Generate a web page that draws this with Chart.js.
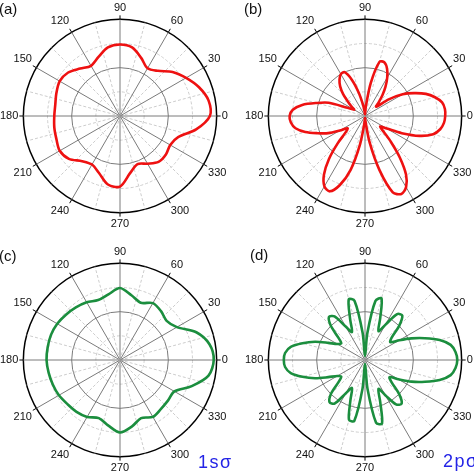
<!DOCTYPE html>
<html>
<head>
<meta charset="utf-8">
<script src="https://cdn.jsdelivr.net/npm/chart.js@4.4.1/dist/chart.umd.min.js"></script>
<style>
  html, body { margin: 0; padding: 0; background: #fff; }
  body { width: 474px; height: 474px; position: relative; overflow: hidden;
         font-family: "Liberation Sans", Arial, sans-serif; }
  canvas { position: absolute; }
  .tag { position: absolute; font-size: 15px; line-height: 1; color: #111; }
  .orb { position: absolute; font-size: 18px; line-height: 1; color: #2424e6; letter-spacing: 1.5px; }
</style>
</head>
<body>
<canvas id="pa" width="240" height="235" style="left:-6px; top:-1px"></canvas>
<canvas id="pb" width="240" height="235" style="left:239px; top:-1px"></canvas>
<canvas id="pc" width="240" height="235" style="left:-6px; top:243px"></canvas>
<canvas id="pd" width="240" height="235" style="left:239px; top:243px"></canvas>

<div class="tag" style="left:-1px; top:1px">(a)</div>
<div class="tag" style="left:244px; top:1px">(b)</div>
<div class="tag" style="left:-1px; top:248px">(c)</div>
<div class="tag" style="left:250px; top:247px">(d)</div>
<div class="orb" style="left:198px; top:453px">1sσ</div>
<div class="orb" style="left:443px; top:452px">2pσ</div>

<script>
// angles in degrees, counter-clockwise from the right (0 = east)
const angleTicks = [0, 30, 60, 90, 120, 150, 180, 210, 240, 270, 300, 330];
const radialTicks = [0, 0.25, 0.5, 0.75, 1];

// (a) red, read every 10 deg: 0, 10, ... 350
const curveA = [0.93, 0.93, 0.87, 0.79, 0.71, 0.61, 0.57, 0.64, 0.72, 0.74,
                0.72, 0.65, 0.60, 0.64, 0.70, 0.72, 0.70, 0.68, 0.68, 0.69,
                0.70, 0.72, 0.69, 0.61, 0.58, 0.63, 0.72, 0.73, 0.60, 0.53,
                0.57, 0.62, 0.62, 0.60, 0.64, 0.80];

// (b) red, read every 5 deg: 0, 5, ... 355
const curveB = [0.83, 0.83, 0.81, 0.75, 0.67, 0.56, 0.45, 0.30, 0.15, 0.20,
                0.28, 0.37, 0.46, 0.54, 0.59, 0.58, 0.35, 0.10, 0.02, 0.05,
                0.12, 0.25, 0.40, 0.50, 0.50, 0.46, 0.40, 0.32, 0.23, 0.17,
                0.13, 0.20, 0.40, 0.52, 0.66, 0.75, 0.78, 0.77, 0.73, 0.64,
                0.52, 0.42, 0.30, 0.22, 0.26, 0.40, 0.58, 0.74, 0.84, 0.86,
                0.76, 0.58, 0.30, 0.08, 0.02, 0.06, 0.28, 0.58, 0.84, 0.89,
                0.85, 0.74, 0.56, 0.38, 0.25, 0.19, 0.26, 0.42, 0.60, 0.73,
                0.79, 0.82];

// (c) green, read every 10 deg
const curveC = [0.97, 0.94, 0.84, 0.68, 0.63, 0.66, 0.68, 0.63, 0.68, 0.745,
                0.69, 0.66, 0.69, 0.71, 0.73, 0.75, 0.76, 0.76, 0.76, 0.75,
                0.74, 0.73, 0.71, 0.70, 0.68, 0.64, 0.69, 0.75, 0.70, 0.64,
                0.68, 0.66, 0.65, 0.65, 0.79, 0.93];

// (d) green, read every 5 deg
const curveD = [0.955, 0.94, 0.90, 0.80, 0.66, 0.53, 0.41, 0.32, 0.36, 0.50,
                0.60, 0.58, 0.42, 0.33, 0.46, 0.66, 0.62, 0.28, 0.04, 0.28,
                0.62, 0.65, 0.45, 0.32, 0.40, 0.55, 0.58, 0.50, 0.36, 0.30,
                0.33, 0.42, 0.55, 0.67, 0.78, 0.83, 0.84, 0.83, 0.78, 0.67,
                0.55, 0.42, 0.33, 0.30, 0.36, 0.50, 0.57, 0.55, 0.40, 0.32,
                0.44, 0.64, 0.64, 0.30, 0.04, 0.30, 0.66, 0.68, 0.46, 0.33,
                0.42, 0.56, 0.59, 0.50, 0.36, 0.31, 0.40, 0.53, 0.66, 0.80,
                0.90, 0.94];

const STEP = 5;
const angles = [];
for (let a = 0; a < 360; a += STEP) angles.push(a);
// radar walks clockwise from startAngle, so list the angles backwards
const order = angles.map((_, i) => angles[(angles.length - i) % angles.length]);

function toSeries(values, every) {
  return order.map(a => (a % every === 0 ? values[a / every] : null));
}

// little tick marks sticking out of the outer circle at the labelled angles
const outerTicks = {
  id: 'outerTicks',
  beforeDatasetsDraw(chart) {
    const s = chart.scales.r;
    const c = chart.ctx;
    c.save();
    c.strokeStyle = '#000';
    c.lineWidth = 1;
    order.forEach((a, i) => {
      if (!angleTicks.includes(a)) return;
      const p0 = s.getPointPosition(i, s.drawingArea);
      const p1 = s.getPointPosition(i, s.drawingArea + 4);
      c.beginPath();
      c.moveTo(p0.x, p0.y);
      c.lineTo(p1.x, p1.y);
      c.stroke();
    });
    c.restore();
  }
};

function polar(id, values, every, color) {
  new Chart(document.getElementById(id), {
    type: 'radar',
    data: {
      labels: order,
      datasets: [{
        data: toSeries(values, every),
        borderColor: color,
        borderWidth: 2.6,
        fill: false,
        pointRadius: 0,
        tension: 0.3,
        spanGaps: true
      }]
    },
    options: {
      responsive: false,
      animation: false,
      events: [],
      plugins: { legend: { display: false }, tooltip: { enabled: false } },
      scales: {
        r: {
          min: radialTicks[0],
          max: radialTicks[radialTicks.length - 1],
          startAngle: 90,
          ticks: { display: false, stepSize: 0.25 },
          grid: {
            circular: true,
            color: ctx => ctx.tick.value === 1 ? '#000' : (ctx.tick.value === 0.5 ? '#7a7a7a' : '#cdcdcd'),
            lineWidth: ctx => ctx.tick.value === 1 ? 1.5 : 1
          },
          border: {
            dash: ctx => (ctx.tick && (ctx.tick.value === 0.25 || ctx.tick.value === 0.75)) ? [3, 2] : []
          },
          angleLines: {
            color: ctx => angleTicks.includes(order[ctx.index]) ? '#7a7a7a' : (order[ctx.index] % 15 === 0 ? '#cdcdcd' : 'rgba(0,0,0,0)'),
            lineWidth: 1,
            borderDash: ctx => angleTicks.includes(order[ctx.index]) ? [] : [3, 2]
          },
          pointLabels: {
            padding: 5,
            color: '#111',
            font: { size: 11, family: '"Liberation Sans", Arial, sans-serif' },
            callback: l => (angleTicks.includes(l) ? String(l) : '')
          }
        }
      }
    },
    plugins: [outerTicks]
  });
}

polar('pa', curveA, 10, '#ee1111');
polar('pb', curveB, 5, '#ee1111');
polar('pc', curveC, 10, '#1b8e3e');
polar('pd', curveD, 5, '#1b8e3e');
</script>
</body>
</html>
